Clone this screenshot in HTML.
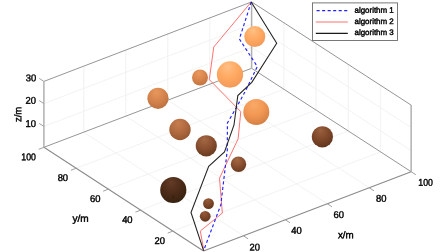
<!DOCTYPE html>
<html><head><meta charset="utf-8"><title>plot</title>
<style>
html,body{margin:0;padding:0;background:#fff;}
body{width:448px;height:252px;overflow:hidden;}
svg{display:block;}
text{font-family:"Liberation Sans",sans-serif;font-size:9.8px;fill:#000;stroke:#000;stroke-width:0.42px;}
.lg text{font-size:7.95px;stroke-width:0.4px;}
.g{stroke:#f3f3f3;stroke-width:1;}
.gv{stroke:#f5f5f5;stroke-width:1.4;}
.b{stroke:#969696;stroke-width:1;}
.ba{stroke:#8a8a8a;stroke-width:1.05;}
.bt{stroke:#a0a0a0;stroke-width:1;}
.bv{stroke:#b0b0b0;stroke-width:1.5;}
</style></head><body>
<svg width="448" height="252" viewBox="0 0 448 252">
<defs><radialGradient id="s0" cx="0.43" cy="0.33" r="0.74" fx="0.41" fy="0.2"><stop offset="0" stop-color="#FFC084"/><stop offset="0.5" stop-color="#FFA962"/><stop offset="1" stop-color="#F09656"/></radialGradient><radialGradient id="s1" cx="0.43" cy="0.33" r="0.74" fx="0.41" fy="0.2"><stop offset="0" stop-color="#FFC084"/><stop offset="0.5" stop-color="#FFA962"/><stop offset="1" stop-color="#F09656"/></radialGradient><radialGradient id="s2" cx="0.43" cy="0.33" r="0.74" fx="0.41" fy="0.2"><stop offset="0" stop-color="#EC9A5C"/><stop offset="0.5" stop-color="#DA864E"/><stop offset="1" stop-color="#BE723E"/></radialGradient><radialGradient id="s3" cx="0.43" cy="0.33" r="0.74" fx="0.41" fy="0.2"><stop offset="0" stop-color="#E8985C"/><stop offset="0.5" stop-color="#D6844E"/><stop offset="1" stop-color="#B86E3C"/></radialGradient><radialGradient id="s4" cx="0.43" cy="0.33" r="0.74" fx="0.41" fy="0.2"><stop offset="0" stop-color="#FBA968"/><stop offset="0.5" stop-color="#F29854"/><stop offset="1" stop-color="#D07C42"/></radialGradient><radialGradient id="s5" cx="0.43" cy="0.33" r="0.74" fx="0.41" fy="0.2"><stop offset="0" stop-color="#C67E4E"/><stop offset="0.5" stop-color="#B26B40"/><stop offset="1" stop-color="#90542F"/></radialGradient><radialGradient id="s6" cx="0.43" cy="0.33" r="0.74" fx="0.41" fy="0.2"><stop offset="0" stop-color="#A46844"/><stop offset="0.5" stop-color="#8A5030"/><stop offset="1" stop-color="#64371E"/></radialGradient><radialGradient id="s7" cx="0.43" cy="0.33" r="0.74" fx="0.41" fy="0.2"><stop offset="0" stop-color="#9A603E"/><stop offset="0.5" stop-color="#80482A"/><stop offset="1" stop-color="#5C311A"/></radialGradient><radialGradient id="s8" cx="0.43" cy="0.33" r="0.74" fx="0.41" fy="0.2"><stop offset="0" stop-color="#A46844"/><stop offset="0.5" stop-color="#8A5030"/><stop offset="1" stop-color="#64371E"/></radialGradient><radialGradient id="s9" cx="0.43" cy="0.33" r="0.74" fx="0.41" fy="0.2"><stop offset="0" stop-color="#643C26"/><stop offset="0.5" stop-color="#4C2B18"/><stop offset="1" stop-color="#34200F"/></radialGradient><radialGradient id="s10" cx="0.43" cy="0.33" r="0.74" fx="0.41" fy="0.2"><stop offset="0" stop-color="#965B3A"/><stop offset="0.5" stop-color="#7E482A"/><stop offset="1" stop-color="#5C321A"/></radialGradient><radialGradient id="s11" cx="0.43" cy="0.33" r="0.74" fx="0.41" fy="0.2"><stop offset="0" stop-color="#965B3A"/><stop offset="0.5" stop-color="#7E482A"/><stop offset="1" stop-color="#5C321A"/></radialGradient></defs>
<rect width="448" height="252" fill="#fff"/>
<line class="g" x1="243.39" y1="235.78" x2="83.76" y2="132.14"/>
<line class="g" x1="172.91" y1="231.10" x2="380.53" y2="151.86"/>
<line class="gv" x1="83.76" y1="132.14" x2="83.76" y2="66.14"/>
<line class="gv" x1="380.53" y1="151.86" x2="380.53" y2="85.29"/>
<line class="g" x1="285.33" y1="219.76" x2="125.72" y2="116.18"/>
<line class="g" x1="140.66" y1="210.15" x2="348.30" y2="130.97"/>
<line class="gv" x1="125.72" y1="116.18" x2="125.72" y2="50.08"/>
<line class="gv" x1="348.30" y1="130.97" x2="348.30" y2="64.45"/>
<line class="g" x1="327.27" y1="203.74" x2="167.68" y2="100.22"/>
<line class="g" x1="108.41" y1="189.20" x2="316.06" y2="110.08"/>
<line class="gv" x1="167.68" y1="100.22" x2="167.68" y2="34.02"/>
<line class="gv" x1="316.06" y1="110.08" x2="316.06" y2="43.60"/>
<line class="g" x1="369.21" y1="187.72" x2="209.64" y2="84.26"/>
<line class="g" x1="76.15" y1="168.25" x2="283.83" y2="89.19"/>
<line class="gv" x1="209.64" y1="84.26" x2="209.64" y2="17.96"/>
<line class="gv" x1="283.83" y1="89.19" x2="283.83" y2="22.75"/>
<line class="g" x1="43.90" y1="126.43" x2="251.60" y2="47.27"/>
<line class="g" x1="411.15" y1="150.61" x2="251.60" y2="47.27"/>
<line class="g" x1="43.90" y1="103.59" x2="251.60" y2="24.25"/>
<line class="g" x1="411.15" y1="127.52" x2="251.60" y2="24.25"/>
<line class="b" x1="43.90" y1="147.30" x2="251.60" y2="68.30"/>
<line class="b" x1="411.15" y1="171.70" x2="251.60" y2="68.30"/>
<line class="b" x1="43.90" y1="81.40" x2="251.60" y2="1.90"/>
<line class="b" x1="411.15" y1="105.10" x2="251.60" y2="1.90"/>
<line class="ba" x1="203.55" y1="251.00" x2="411.15" y2="171.70"/>
<line class="ba" x1="203.55" y1="251.00" x2="43.90" y2="147.30"/>
<line class="bv" x1="43.90" y1="147.30" x2="43.90" y2="81.40"/>
<line class="bv" x1="411.15" y1="171.70" x2="411.15" y2="105.10"/>
<line class="bv" x1="251.60" y1="68.30" x2="251.60" y2="1.90"/>
<line class="bt" x1="243.39" y1="235.78" x2="248.09" y2="238.83"/>
<line class="bt" x1="172.91" y1="231.10" x2="167.68" y2="233.10"/>
<line class="bt" x1="285.33" y1="219.76" x2="290.03" y2="222.81"/>
<line class="bt" x1="140.66" y1="210.15" x2="135.43" y2="212.15"/>
<line class="bt" x1="327.27" y1="203.74" x2="331.97" y2="206.79"/>
<line class="bt" x1="108.41" y1="189.20" x2="103.17" y2="191.20"/>
<line class="bt" x1="369.21" y1="187.72" x2="373.91" y2="190.77"/>
<line class="bt" x1="76.15" y1="168.25" x2="70.92" y2="170.25"/>
<line class="bt" x1="411.15" y1="171.70" x2="415.85" y2="174.75"/>
<line class="bt" x1="43.90" y1="147.30" x2="38.67" y2="149.30"/>
<line class="bt" x1="43.90" y1="126.43" x2="39.20" y2="123.38"/>
<line class="bt" x1="43.90" y1="103.59" x2="39.20" y2="100.54"/>
<line class="bt" x1="43.90" y1="81.40" x2="39.20" y2="78.35"/>
<circle cx="254.8" cy="36.6" r="10.5" fill="url(#s0)"/><circle cx="230" cy="74.5" r="13.15" fill="url(#s1)"/><circle cx="200" cy="77.5" r="8.0" fill="url(#s2)"/><circle cx="158" cy="98.3" r="10.6" fill="url(#s3)"/><circle cx="256.3" cy="112" r="13.0" fill="url(#s4)"/><circle cx="180" cy="129.5" r="10.7" fill="url(#s5)"/><circle cx="206.3" cy="145.8" r="10.6" fill="url(#s6)"/><circle cx="322.4" cy="136.8" r="10.6" fill="url(#s7)"/><circle cx="238.5" cy="164.3" r="7.7" fill="url(#s8)"/><circle cx="173.3" cy="190" r="13.1" fill="url(#s9)"/><circle cx="208.5" cy="203.6" r="5.4" fill="url(#s10)"/><circle cx="205.2" cy="216.3" r="5.4" fill="url(#s11)"/>
<line x1="173.2" y1="195" x2="173.2" y2="198.4" stroke="#2a170b" stroke-width="0.7"/>
<polyline points="203.8,250.6 200.3,231 222.35,213.1 219.5,178.25 238.1,138.9 240.8,111.7 209.3,79.6 213.75,47 251.2,2" fill="none" stroke="#ff7272" stroke-width="1.0"/>
<polyline points="251.2,2 239.4,39 257.3,66.5 244.9,92 236.1,108 227.4,123 227.3,150 220.8,205 203.6,250.6" fill="none" stroke="#2020ff" stroke-width="1.15" stroke-dasharray="3.05 2.5"/>
<polyline points="203.6,250.6 191,212.5 208.7,166.4 224.5,152 234,125 237.8,95.6 251.8,82.3 276.7,43.2 251.2,2" fill="none" stroke="#222" stroke-width="1.06" stroke-linejoin="miter"/>
<text transform="translate(249.6,250.4) rotate(0.03) scale(0.96,1)" text-anchor="start">20</text><text transform="translate(291.2,233.8) rotate(0.03) scale(0.96,1)" text-anchor="start">40</text><text transform="translate(333.6,218.0) rotate(0.03) scale(0.96,1)" text-anchor="start">60</text><text transform="translate(375.9,201.8) rotate(0.03) scale(0.96,1)" text-anchor="start">80</text><text transform="translate(418.3,185.7) rotate(0.03) scale(0.89,1)" text-anchor="start">100</text><text transform="translate(164.9,244.0) rotate(0.03) scale(0.96,1)" text-anchor="end">20</text><text transform="translate(132.6,223.0) rotate(0.03) scale(0.96,1)" text-anchor="end">40</text><text transform="translate(100.5,202.0) rotate(0.03) scale(0.96,1)" text-anchor="end">60</text><text transform="translate(68.1,181.0) rotate(0.03) scale(0.96,1)" text-anchor="end">80</text><text transform="translate(35.9,160.2) rotate(0.03) scale(0.89,1)" text-anchor="end">100</text><text transform="translate(36.2,81.2) rotate(0.03) scale(0.96,1)" text-anchor="end">30</text><text transform="translate(36.0,103.7) rotate(0.03) scale(0.96,1)" text-anchor="end">20</text><text transform="translate(36.0,127.0) rotate(0.03) scale(0.96,1)" text-anchor="end">10</text><text transform="translate(345.8,238.2) rotate(0.03) scale(1.0,1)" text-anchor="middle">x/m</text><text transform="translate(80.6,221.8) rotate(0.03) scale(1.03,1)" text-anchor="middle">y/m</text><text transform="translate(21.2,114.4) rotate(-90) rotate(0.03) scale(0.96,1)" text-anchor="middle">z/m</text>
<g class="lg">
<rect x="312.5" y="2.9" width="85" height="37.6" fill="#fff" stroke="#6a6a6a" stroke-width="0.9"/>
<line x1="316.6" y1="10.6" x2="347.3" y2="10.6" stroke="#2020ff" stroke-width="1.2" stroke-dasharray="3.05 2.47"/>
<line x1="315.8" y1="22" x2="347.8" y2="22" stroke="#ff6e6e" stroke-width="1.1"/>
<line x1="315.8" y1="33.4" x2="347.8" y2="33.4" stroke="#1a1a1a" stroke-width="1.15"/>
<text transform="translate(354.5,12.85) rotate(0.03)">algorithm 1</text>
<text transform="translate(354.5,24.0) rotate(0.03)">algorithm 2</text>
<text transform="translate(354.5,34.95) rotate(0.03)">algorithm 3</text>
</g>
</svg>
</body></html>
